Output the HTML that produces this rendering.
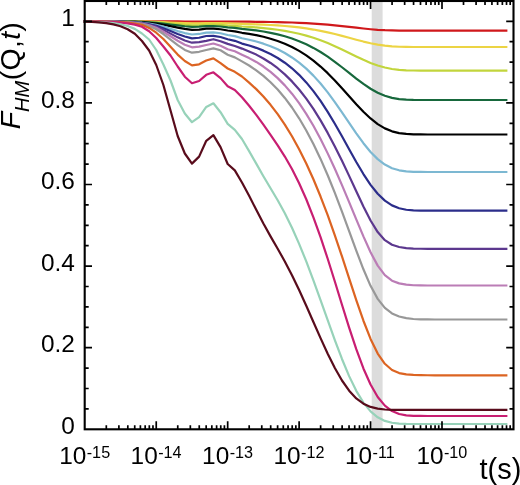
<!DOCTYPE html>
<html><head><meta charset="utf-8"><title>F_HM(Q,t)</title>
<style>html,body{margin:0;padding:0;background:#fff;overflow:hidden}svg{display:block}</style>
</head><body>
<svg width="520" height="485" viewBox="0 0 520 485">
<rect width="520" height="485" fill="#fff"/>
<rect x="371.7" y="2" width="10.9" height="427" fill="#dcdcdc"/>
<path d="M84.80,21.30 L91.94,21.30 L99.09,21.30 L106.23,21.30 L113.38,21.30 L120.52,21.31 L127.66,21.31 L134.81,21.32 L141.95,21.32 L149.10,21.34 L156.24,21.36 L163.38,21.39 L170.53,21.43 L177.67,21.47 L184.82,21.51 L191.96,21.53 L199.10,21.53 L206.25,21.51 L213.39,21.51 L220.54,21.53 L227.68,21.57 L234.82,21.61 L241.97,21.67 L249.11,21.72 L256.26,21.79 L263.40,21.87 L270.54,21.98 L277.69,22.12 L284.83,22.29 L291.98,22.51 L299.12,22.78 L306.26,23.12 L313.41,23.53 L320.55,24.03 L327.70,24.61 L334.84,25.29 L341.98,26.05 L349.13,26.86 L356.27,27.70 L363.42,28.51 L370.56,29.23 L377.70,29.80 L384.85,30.20 L391.99,30.44 L399.14,30.55 L406.28,30.59 L413.42,30.60 L420.57,30.60 L427.71,30.60 L434.86,30.60 L442.00,30.60 L449.14,30.60 L456.29,30.60 L463.43,30.60 L470.58,30.60 L477.72,30.60 L484.86,30.60 L492.01,30.60 L499.15,30.60 L506.30,30.60" fill="none" stroke="#d0181b" stroke-width="2.2" stroke-linejoin="round" stroke-linecap="square"/>
<path d="M84.80,21.31 L91.94,21.31 L99.09,21.32 L106.23,21.33 L113.38,21.34 L120.52,21.36 L127.66,21.39 L134.81,21.44 L141.95,21.52 L149.10,21.64 L156.24,21.85 L163.38,22.16 L170.53,22.53 L177.67,22.90 L184.82,23.22 L191.96,23.45 L199.10,23.34 L206.25,23.08 L213.39,23.03 L220.54,23.14 L227.68,23.41 L234.82,23.56 L241.97,23.88 L249.11,24.08 L256.26,24.32 L263.40,24.62 L270.54,24.99 L277.69,25.44 L284.83,25.99 L291.98,26.65 L299.12,27.46 L306.26,28.41 L313.41,29.54 L320.55,30.85 L327.70,32.34 L334.84,34.02 L341.98,35.84 L349.13,37.76 L356.27,39.70 L363.42,41.56 L370.56,43.23 L377.70,44.62 L384.85,45.65 L391.99,46.34 L399.14,46.73 L406.28,46.91 L413.42,46.98 L420.57,47.00 L427.71,47.00 L434.86,47.00 L442.00,47.00 L449.14,47.00 L456.29,47.00 L463.43,47.00 L470.58,47.00 L477.72,47.00 L484.86,47.00 L492.01,47.00 L499.15,47.00 L506.30,47.00" fill="none" stroke="#ecd444" stroke-width="2.2" stroke-linejoin="round" stroke-linecap="square"/>
<path d="M84.80,21.33 L91.94,21.34 L99.09,21.35 L106.23,21.37 L113.38,21.40 L120.52,21.44 L127.66,21.50 L134.81,21.59 L141.95,21.74 L149.10,21.98 L156.24,22.37 L163.38,22.96 L170.53,23.65 L177.67,24.34 L184.82,24.96 L191.96,25.41 L199.10,25.23 L206.25,24.77 L213.39,24.71 L220.54,24.97 L227.68,25.50 L234.82,25.84 L241.97,26.49 L249.11,26.92 L256.26,27.44 L263.40,28.08 L270.54,28.85 L277.69,29.78 L284.83,30.89 L291.98,32.23 L299.12,33.80 L306.26,35.66 L313.41,37.81 L320.55,40.28 L327.70,43.07 L334.84,46.15 L341.98,49.48 L349.13,52.96 L356.27,56.46 L363.42,59.84 L370.56,62.91 L377.70,65.51 L384.85,67.54 L391.99,68.97 L399.14,69.84 L406.28,70.31 L413.42,70.51 L420.57,70.58 L427.71,70.60 L434.86,70.60 L442.00,70.60 L449.14,70.60 L456.29,70.60 L463.43,70.60 L470.58,70.60 L477.72,70.60 L484.86,70.60 L492.01,70.60 L499.15,70.60 L506.30,70.60" fill="none" stroke="#c2d53c" stroke-width="2.2" stroke-linejoin="round" stroke-linecap="square"/>
<path d="M84.80,21.34 L91.94,21.36 L99.09,21.38 L106.23,21.41 L113.38,21.44 L120.52,21.50 L127.66,21.58 L134.81,21.71 L141.95,21.91 L149.10,22.24 L156.24,22.77 L163.38,23.55 L170.53,24.47 L177.67,25.41 L184.82,26.24 L191.96,26.87 L199.10,26.67 L206.25,26.11 L213.39,26.09 L220.54,26.50 L227.68,27.29 L234.82,27.84 L241.97,28.82 L249.11,29.55 L256.26,30.43 L263.40,31.51 L270.54,32.81 L277.69,34.38 L284.83,36.26 L291.98,38.51 L299.12,41.16 L306.26,44.28 L313.41,47.90 L320.55,52.03 L327.70,56.67 L334.84,61.78 L341.98,67.25 L349.13,72.93 L356.27,78.59 L363.42,83.96 L370.56,88.77 L377.70,92.76 L384.85,95.78 L391.99,97.83 L399.14,99.05 L406.28,99.65 L413.42,99.90 L420.57,99.98 L427.71,100.00 L434.86,100.00 L442.00,100.00 L449.14,100.00 L456.29,100.00 L463.43,100.00 L470.58,100.00 L477.72,100.00 L484.86,100.00 L492.01,100.00 L499.15,100.00 L506.30,100.00" fill="none" stroke="#17683c" stroke-width="2.2" stroke-linejoin="round" stroke-linecap="square"/>
<path d="M84.80,21.37 L91.94,21.39 L99.09,21.42 L106.23,21.47 L113.38,21.53 L120.52,21.61 L127.66,21.74 L134.81,21.94 L141.95,22.24 L149.10,22.75 L156.24,23.57 L163.38,24.77 L170.53,26.17 L177.67,27.61 L184.82,28.89 L191.96,29.84 L199.10,29.54 L206.25,28.69 L213.39,28.65 L220.54,29.27 L227.68,30.47 L234.82,31.31 L241.97,32.79 L249.11,33.88 L256.26,35.19 L263.40,36.78 L270.54,38.70 L277.69,41.01 L284.83,43.77 L291.98,47.04 L299.12,50.90 L306.26,55.41 L313.41,60.61 L320.55,66.53 L327.70,73.16 L334.84,80.42 L341.98,88.18 L349.13,96.19 L356.27,104.16 L363.42,111.72 L370.56,118.48 L377.70,124.10 L384.85,128.38 L391.99,131.31 L399.14,133.07 L406.28,133.96 L413.42,134.34 L420.57,134.46 L427.71,134.49 L434.86,134.50 L442.00,134.50 L449.14,134.50 L456.29,134.50 L463.43,134.50 L470.58,134.50 L477.72,134.50 L484.86,134.50 L492.01,134.50 L499.15,134.50 L506.30,134.50" fill="none" stroke="#000000" stroke-width="2.2" stroke-linejoin="round" stroke-linecap="square"/>
<path d="M84.80,21.40 L91.94,21.43 L99.09,21.47 L106.23,21.54 L113.38,21.63 L120.52,21.76 L127.66,21.96 L134.81,22.26 L141.95,22.72 L149.10,23.51 L156.24,24.78 L163.38,26.65 L170.53,28.84 L177.67,31.07 L184.82,33.05 L191.96,34.51 L199.10,33.97 L206.25,32.55 L213.39,32.40 L220.54,33.26 L227.68,35.02 L234.82,36.16 L241.97,38.29 L249.11,39.75 L256.26,41.52 L263.40,43.66 L270.54,46.24 L277.69,49.34 L284.83,53.05 L291.98,57.44 L299.12,62.62 L306.26,68.66 L313.41,75.62 L320.55,83.54 L327.70,92.38 L334.84,102.04 L341.98,112.31 L349.13,122.89 L356.27,133.35 L363.42,143.20 L370.56,151.94 L377.70,159.13 L384.85,164.54 L391.99,168.18 L399.14,170.32 L406.28,171.39 L413.42,171.82 L420.57,171.96 L427.71,171.99 L434.86,172.00 L442.00,172.00 L449.14,172.00 L456.29,172.00 L463.43,172.00 L470.58,172.00 L477.72,172.00 L484.86,172.00 L492.01,172.00 L499.15,172.00 L506.30,172.00" fill="none" stroke="#7cb8d2" stroke-width="2.2" stroke-linejoin="round" stroke-linecap="square"/>
<path d="M84.80,21.44 L91.94,21.49 L99.09,21.55 L106.23,21.64 L113.38,21.76 L120.52,21.93 L127.66,22.19 L134.81,22.59 L141.95,23.20 L149.10,24.21 L156.24,25.85 L163.38,28.26 L170.53,31.09 L177.67,33.96 L184.82,36.52 L191.96,38.41 L199.10,37.76 L206.25,35.98 L213.39,35.83 L220.54,36.98 L227.68,39.29 L234.82,40.80 L241.97,43.59 L249.11,45.52 L256.26,47.84 L263.40,50.63 L270.54,53.98 L277.69,57.97 L284.83,62.71 L291.98,68.30 L299.12,74.84 L306.26,82.42 L313.41,91.12 L320.55,100.94 L327.70,111.85 L334.84,123.71 L341.98,136.29 L349.13,149.22 L356.27,162.00 L363.42,174.06 L370.56,184.82 L377.70,193.78 L384.85,200.63 L391.99,205.36 L399.14,208.24 L406.28,209.74 L413.42,210.40 L420.57,210.63 L427.71,210.69 L434.86,210.70 L442.00,210.70 L449.14,210.70 L456.29,210.70 L463.43,210.70 L470.58,210.70 L477.72,210.70 L484.86,210.70 L492.01,210.70 L499.15,210.70 L506.30,210.70" fill="none" stroke="#2b2d8a" stroke-width="2.2" stroke-linejoin="round" stroke-linecap="square"/>
<path d="M84.80,21.34 L91.94,21.37 L99.09,21.42 L106.23,21.49 L113.38,21.60 L120.52,21.77 L127.66,22.05 L134.81,22.50 L141.95,23.23 L149.10,24.51 L156.24,26.65 L163.38,29.86 L170.53,33.61 L177.67,37.35 L184.82,40.56 L191.96,42.70 L199.10,42.08 L206.25,40.82 L213.39,39.20 L220.54,41.20 L227.68,43.90 L234.82,46.00 L241.97,48.60 L249.11,51.60 L256.26,54.60 L263.40,58.45 L270.54,62.96 L277.69,68.23 L284.83,74.35 L291.98,81.40 L299.12,89.48 L306.26,98.65 L313.41,108.94 L320.55,120.37 L327.70,132.89 L334.84,146.41 L341.98,160.81 L349.13,175.87 L356.27,191.27 L363.42,206.46 L370.56,220.50 L377.70,232.10 L384.85,240.16 L391.99,244.74 L399.14,247.03 L406.28,248.11 L413.42,248.58 L420.57,248.74 L427.71,248.79 L434.86,248.80 L442.00,248.80 L449.14,248.80 L456.29,248.80 L463.43,248.80 L470.58,248.80 L477.72,248.80 L484.86,248.80 L492.01,248.80 L499.15,248.80 L506.30,248.80" fill="none" stroke="#5c388e" stroke-width="2.2" stroke-linejoin="round" stroke-linecap="square"/>
<path d="M84.80,21.35 L91.94,21.39 L99.09,21.44 L106.23,21.53 L113.38,21.66 L120.52,21.87 L127.66,22.21 L134.81,22.76 L141.95,23.64 L149.10,25.20 L156.24,27.80 L163.38,31.70 L170.53,36.25 L177.67,40.80 L184.82,44.70 L191.96,47.30 L199.10,46.55 L206.25,45.01 L213.39,43.50 L220.54,45.70 L227.68,49.30 L234.82,51.30 L241.97,54.70 L249.11,58.10 L256.26,61.91 L263.40,66.51 L270.54,71.89 L277.69,78.14 L284.83,85.38 L291.98,93.69 L299.12,103.16 L306.26,113.86 L313.41,125.81 L320.55,139.00 L327.70,153.38 L334.84,168.81 L341.98,185.14 L349.13,202.11 L356.27,219.38 L363.42,236.41 L370.56,252.27 L377.70,265.61 L384.85,275.13 L391.99,280.66 L399.14,283.39 L406.28,284.67 L413.42,285.23 L420.57,285.43 L427.71,285.49 L434.86,285.50 L442.00,285.50 L449.14,285.50 L456.29,285.50 L463.43,285.50 L470.58,285.50 L477.72,285.50 L484.86,285.50 L492.01,285.50 L499.15,285.50 L506.30,285.50" fill="none" stroke="#bb7db6" stroke-width="2.2" stroke-linejoin="round" stroke-linecap="square"/>
<path d="M84.80,21.36 L91.94,21.41 L99.09,21.47 L106.23,21.59 L113.38,21.75 L120.52,22.00 L127.66,22.41 L134.81,23.08 L141.95,24.16 L149.10,26.07 L156.24,29.25 L163.38,34.02 L170.53,39.59 L177.67,45.15 L184.82,49.92 L191.96,52.70 L199.10,51.80 L206.25,50.00 L213.39,48.40 L220.54,50.30 L227.68,54.70 L234.82,57.40 L241.97,61.40 L249.11,65.50 L256.26,70.39 L263.40,75.89 L270.54,82.25 L277.69,89.58 L284.83,97.96 L291.98,107.51 L299.12,118.31 L306.26,130.45 L313.41,143.97 L320.55,158.91 L327.70,175.23 L334.84,192.84 L341.98,211.56 L349.13,231.02 L356.27,250.60 L363.42,269.30 L370.56,285.82 L377.70,298.89 L384.85,307.91 L391.99,313.40 L399.14,316.50 L406.28,318.17 L413.42,318.99 L420.57,319.34 L427.71,319.46 L434.86,319.49 L442.00,319.50 L449.14,319.50 L456.29,319.50 L463.43,319.50 L470.58,319.50 L477.72,319.50 L484.86,319.50 L492.01,319.50 L499.15,319.50 L506.30,319.50" fill="none" stroke="#989898" stroke-width="2.2" stroke-linejoin="round" stroke-linecap="square"/>
<path d="M84.80,21.38 L91.94,21.44 L99.09,21.51 L106.23,21.65 L113.38,21.84 L120.52,22.16 L127.66,22.66 L134.81,23.48 L141.95,24.80 L149.10,27.90 L156.24,32.70 L163.38,39.00 L170.53,46.70 L177.67,54.60 L184.82,61.00 L191.96,65.40 L199.10,64.30 L206.25,60.50 L213.39,58.40 L220.54,63.20 L227.68,68.50 L234.82,71.80 L241.97,76.50 L249.11,82.59 L256.26,89.13 L263.40,96.51 L270.54,104.83 L277.69,114.17 L284.83,124.62 L291.98,136.27 L299.12,149.22 L306.26,163.53 L313.41,179.29 L320.55,196.52 L327.70,215.21 L334.84,235.27 L341.98,256.46 L349.13,278.32 L356.27,300.10 L363.42,320.73 L370.56,338.94 L377.70,353.52 L384.85,363.79 L391.99,369.97 L399.14,373.08 L406.28,374.42 L413.42,374.96 L420.57,375.18 L427.71,375.26 L434.86,375.29 L442.00,375.30 L449.14,375.30 L456.29,375.30 L463.43,375.30 L470.58,375.30 L477.72,375.30 L484.86,375.30 L492.01,375.30 L499.15,375.30 L506.30,375.30" fill="none" stroke="#dc6422" stroke-width="2.2" stroke-linejoin="round" stroke-linecap="square"/>
<path d="M84.80,21.42 L91.94,21.51 L99.09,21.63 L106.23,21.84 L113.38,22.14 L120.52,22.62 L127.66,23.40 L134.81,24.60 L141.95,26.80 L149.10,31.20 L156.24,38.00 L163.38,46.50 L170.53,55.50 L177.67,66.50 L184.82,76.70 L191.96,83.20 L199.10,81.00 L206.25,74.80 L213.39,72.30 L220.54,78.10 L227.68,86.30 L234.82,90.00 L241.97,97.30 L249.11,105.70 L256.26,114.82 L263.40,124.59 L270.54,134.76 L277.69,145.32 L284.83,156.56 L291.98,169.03 L299.12,183.18 L306.26,199.25 L313.41,217.30 L320.55,237.22 L327.70,258.76 L334.84,281.47 L341.98,304.70 L349.13,327.61 L356.27,349.19 L363.42,368.46 L370.56,384.56 L377.70,396.98 L384.85,405.67 L391.99,411.08 L399.14,414.01 L406.28,415.33 L413.42,415.82 L420.57,415.97 L427.71,416.00 L434.86,416.00 L442.00,416.00 L449.14,416.00 L456.29,416.00 L463.43,416.00 L470.58,416.00 L477.72,416.00 L484.86,416.00 L492.01,416.00 L499.15,416.00 L506.30,416.00" fill="none" stroke="#c81e72" stroke-width="2.2" stroke-linejoin="round" stroke-linecap="square"/>
<path d="M84.80,21.57 L91.94,21.77 L99.09,22.05 L106.23,22.52 L113.38,23.20 L120.52,24.28 L127.66,26.04 L134.81,28.89 L141.95,33.50 L149.10,39.50 L156.24,50.00 L163.38,64.50 L170.53,80.50 L177.67,100.00 L184.82,113.50 L191.96,122.20 L199.10,117.10 L206.25,106.90 L213.39,103.30 L220.54,112.20 L227.68,123.80 L234.82,129.80 L241.97,139.00 L249.11,151.14 L256.26,163.61 L263.40,176.21 L270.54,188.26 L277.69,200.25 L284.83,213.24 L291.98,227.75 L299.12,243.84 L306.26,261.42 L313.41,280.27 L320.55,300.01 L327.70,320.16 L334.84,340.06 L341.98,358.97 L349.13,376.13 L356.27,390.85 L363.42,402.67 L370.56,411.43 L377.70,417.34 L384.85,420.89 L391.99,422.75 L399.14,423.58 L406.28,423.89 L413.42,423.98 L420.57,424.00 L427.71,424.00 L434.86,424.00 L442.00,424.00 L449.14,424.00 L456.29,424.00 L463.43,424.00 L470.58,424.00 L477.72,424.00 L484.86,424.00 L492.01,424.00 L499.15,424.00 L506.30,424.00" fill="none" stroke="#97d2b9" stroke-width="2.2" stroke-linejoin="round" stroke-linecap="square"/>
<path d="M84.80,21.60 L91.94,21.90 L99.09,22.40 L106.23,23.20 L113.38,24.40 L120.52,26.30 L127.66,29.30 L134.81,33.80 L141.95,41.00 L149.10,50.50 L156.24,65.00 L163.38,85.00 L170.53,110.50 L177.67,136.00 L184.82,153.50 L191.96,163.60 L199.10,156.60 L206.25,140.80 L213.39,135.10 L220.54,147.10 L227.68,164.00 L234.82,170.40 L241.97,182.50 L249.11,195.76 L256.26,209.87 L263.40,223.54 L270.54,236.35 L277.69,248.69 L284.83,261.45 L291.98,275.21 L299.12,290.06 L306.26,305.76 L313.41,321.95 L320.55,338.13 L327.70,353.70 L334.84,368.02 L341.98,380.50 L349.13,390.69 L356.27,398.39 L363.42,403.68 L370.56,406.94 L377.70,408.69 L384.85,409.48 L391.99,409.79 L399.14,409.88 L406.28,409.90 L413.42,409.90 L420.57,409.90 L427.71,409.90 L434.86,409.90 L442.00,409.90 L449.14,409.90 L456.29,409.90 L463.43,409.90 L470.58,409.90 L477.72,409.90 L484.86,409.90 L492.01,409.90 L499.15,409.90 L506.30,409.90" fill="none" stroke="#590c1c" stroke-width="2.2" stroke-linejoin="round" stroke-linecap="square"/>
<g stroke="#000" fill="none">
<rect x="84.7" y="1.0" width="428.8" height="428.3" stroke-width="2.1"/>
<path d="M106.31,429.3v-4 M106.31,1.0v4 M118.89,429.3v-4 M118.89,1.0v4 M127.81,429.3v-4 M127.81,1.0v4 M134.73,429.3v-4 M134.73,1.0v4 M140.39,429.3v-4 M140.39,1.0v4 M145.17,429.3v-4 M145.17,1.0v4 M149.32,429.3v-4 M149.32,1.0v4 M152.97,429.3v-4 M152.97,1.0v4 M156.24,429.3v-8.0 M156.24,1.0v8.0 M177.75,429.3v-4 M177.75,1.0v4 M190.33,429.3v-4 M190.33,1.0v4 M199.25,429.3v-4 M199.25,1.0v4 M206.17,429.3v-4 M206.17,1.0v4 M211.83,429.3v-4 M211.83,1.0v4 M216.61,429.3v-4 M216.61,1.0v4 M220.76,429.3v-4 M220.76,1.0v4 M224.41,429.3v-4 M224.41,1.0v4 M227.68,429.3v-8.0 M227.68,1.0v8.0 M249.19,429.3v-4 M249.19,1.0v4 M261.77,429.3v-4 M261.77,1.0v4 M270.69,429.3v-4 M270.69,1.0v4 M277.61,429.3v-4 M277.61,1.0v4 M283.27,429.3v-4 M283.27,1.0v4 M288.05,429.3v-4 M288.05,1.0v4 M292.20,429.3v-4 M292.20,1.0v4 M295.85,429.3v-4 M295.85,1.0v4 M299.12,429.3v-8.0 M299.12,1.0v8.0 M320.63,429.3v-4 M320.63,1.0v4 M333.21,429.3v-4 M333.21,1.0v4 M342.13,429.3v-4 M342.13,1.0v4 M349.05,429.3v-4 M349.05,1.0v4 M354.71,429.3v-4 M354.71,1.0v4 M359.49,429.3v-4 M359.49,1.0v4 M363.64,429.3v-4 M363.64,1.0v4 M367.29,429.3v-4 M367.29,1.0v4 M370.56,429.3v-8.0 M370.56,1.0v8.0 M392.07,429.3v-4 M392.07,1.0v4 M404.65,429.3v-4 M404.65,1.0v4 M413.57,429.3v-4 M413.57,1.0v4 M420.49,429.3v-4 M420.49,1.0v4 M426.15,429.3v-4 M426.15,1.0v4 M430.93,429.3v-4 M430.93,1.0v4 M435.08,429.3v-4 M435.08,1.0v4 M438.73,429.3v-4 M438.73,1.0v4 M442.00,429.3v-8.0 M442.00,1.0v8.0 M463.51,429.3v-4 M463.51,1.0v4 M476.09,429.3v-4 M476.09,1.0v4 M485.01,429.3v-4 M485.01,1.0v4 M491.93,429.3v-4 M491.93,1.0v4 M497.59,429.3v-4 M497.59,1.0v4 M502.37,429.3v-4 M502.37,1.0v4 M506.52,429.3v-4 M506.52,1.0v4 M510.17,429.3v-4 M510.17,1.0v4 M84.7,408.90h4 M513.5,408.90h-4 M84.7,388.50h4 M513.5,388.50h-4 M84.7,368.10h4 M513.5,368.10h-4 M84.7,347.70h7.3 M513.5,347.70h-7.3 M84.7,327.30h4 M513.5,327.30h-4 M84.7,306.90h4 M513.5,306.90h-4 M84.7,286.50h4 M513.5,286.50h-4 M84.7,266.10h7.3 M513.5,266.10h-7.3 M84.7,245.70h4 M513.5,245.70h-4 M84.7,225.30h4 M513.5,225.30h-4 M84.7,204.90h4 M513.5,204.90h-4 M84.7,184.50h7.3 M513.5,184.50h-7.3 M84.7,164.10h4 M513.5,164.10h-4 M84.7,143.70h4 M513.5,143.70h-4 M84.7,123.30h4 M513.5,123.30h-4 M84.7,102.90h7.3 M513.5,102.90h-7.3 M84.7,82.50h4 M513.5,82.50h-4 M84.7,62.10h4 M513.5,62.10h-4 M84.7,41.70h4 M513.5,41.70h-4 M84.7,21.30h7.3 M513.5,21.30h-7.3" stroke-width="1.7"/>
</g>
<g font-family="Liberation Sans, Arial, sans-serif" fill="#000" font-size="24.4">
<text x="74.8" y="434.0" text-anchor="end">0</text>
<text x="74.8" y="352.4" text-anchor="end">0.2</text>
<text x="74.8" y="270.8" text-anchor="end">0.4</text>
<text x="74.8" y="189.2" text-anchor="end">0.6</text>
<text x="74.8" y="107.6" text-anchor="end">0.8</text>
<text x="74.8" y="26.0" text-anchor="end">1</text>
<text x="59.2" y="464.0" >10<tspan font-size="16.2" dy="-6.2" dx="0.4">-15</tspan></text>
<text x="130.6" y="464.0" >10<tspan font-size="16.2" dy="-6.2" dx="0.4">-14</tspan></text>
<text x="202.1" y="464.0" >10<tspan font-size="16.2" dy="-6.2" dx="0.4">-13</tspan></text>
<text x="273.5" y="464.0" >10<tspan font-size="16.2" dy="-6.2" dx="0.4">-12</tspan></text>
<text x="345.0" y="464.0" >10<tspan font-size="16.2" dy="-6.2" dx="0.4">-11</tspan></text>
<text x="416.4" y="464.0" >10<tspan font-size="16.2" dy="-6.2" dx="0.4">-10</tspan></text>
</g>
<text font-family="Liberation Sans, Arial, sans-serif" font-size="29" x="479.5" y="478.7">t(s)</text>
<text font-family="Liberation Sans, Arial, sans-serif" font-size="28.5" transform="translate(20.4,129.3) rotate(-90)"><tspan font-style="italic">F</tspan><tspan font-style="italic" font-size="20" dy="8.7">HM</tspan><tspan dy="-8.7" dx="0.6" letter-spacing="0.3">(Q,</tspan><tspan font-style="italic">t</tspan>)</text>
</svg>
</body></html>
